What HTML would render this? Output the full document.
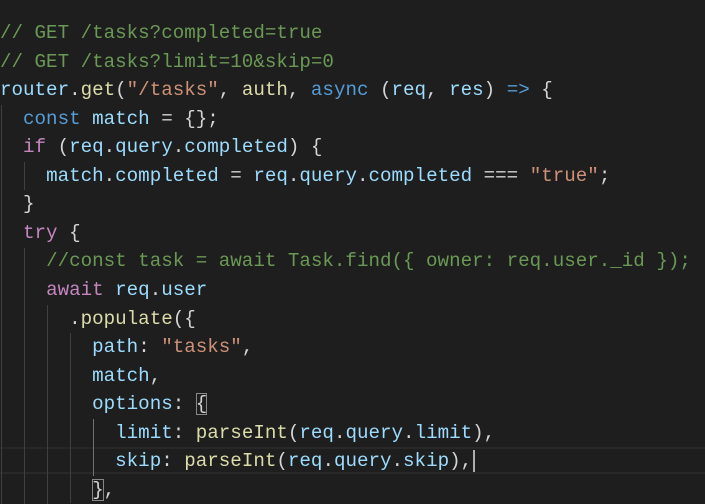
<!DOCTYPE html>
<html><head><meta charset="utf-8"><style>
html,body{margin:0;height:504px;overflow:hidden}
body{background:#1e1e1e;width:705px;position:relative;font-family:"Liberation Mono",monospace;font-size:19.2px;color:#d4d4d4}
.l{position:absolute;left:0;height:28.56px;line-height:28.56px;white-space:pre}
.g{position:absolute;width:1px;background:#404040}
.c{color:#6a9955}.v{color:#9cdcfe}.f{color:#dcdcaa}.s{color:#ce9178}.k{color:#569cd6}.p{color:#c586c0}
.b{outline:1px solid #888;outline-offset:-1px}
</style></head><body>
<div style="position:absolute;left:0;top:447px;width:705px;height:27px;border-top:2px solid #282828;border-bottom:2px solid #282828;box-sizing:border-box"></div>
<div class="g" style="left:1px;top:104.7px;height:399px"></div>
<div class="g" style="left:24px;top:161.8px;height:28.6px"></div>
<div class="g" style="left:24px;top:247.5px;height:256px"></div>
<div class="g" style="left:47px;top:304.6px;height:199px"></div>
<div class="g" style="left:70px;top:333.2px;height:170px"></div>
<div class="g" style="left:93px;top:418.9px;height:57.1px;background:#707070"></div>
<div class="l" style="top:19px"><span class="c">// GET /tasks?completed=true</span></div>
<div class="l" style="top:47.56px"><span class="c">// GET /tasks?limit=10&amp;skip=0</span></div>
<div class="l" style="top:76.12px"><span class="v">router</span>.<span class="f">get</span>(<span class="s">"/tasks"</span>, <span class="f">auth</span>, <span class="k">async</span> (<span class="v">req</span>, <span class="v">res</span>) <span class="k">=&gt;</span> {</div>
<div class="l" style="top:104.68px">  <span class="k">const</span> <span class="v">match</span> = {};</div>
<div class="l" style="top:133.24px">  <span class="p">if</span> (<span class="v">req</span>.<span class="v">query</span>.<span class="v">completed</span>) {</div>
<div class="l" style="top:161.8px">    <span class="v">match</span>.<span class="v">completed</span> = <span class="v">req</span>.<span class="v">query</span>.<span class="v">completed</span> === <span class="s">"true"</span>;</div>
<div class="l" style="top:190.36px">  }</div>
<div class="l" style="top:218.92px">  <span class="p">try</span> {</div>
<div class="l" style="top:247.48px">    <span class="c">//const task = await Task.find({ owner: req.user._id });</span></div>
<div class="l" style="top:276.04px">    <span class="p">await</span> <span class="v">req</span>.<span class="v">user</span></div>
<div class="l" style="top:304.6px">      .<span class="f">populate</span>({</div>
<div class="l" style="top:333.16px">        <span class="v">path</span>: <span class="s">"tasks"</span>,</div>
<div class="l" style="top:361.72px">        <span class="v">match</span>,</div>
<div class="l" style="top:390.28px">        <span class="v">options</span>: <span class="b">{</span></div>
<div class="l" style="top:418.84px">          <span class="v">limit</span>: <span class="f">parseInt</span>(<span class="v">req</span>.<span class="v">query</span>.<span class="v">limit</span>),</div>
<div class="l" style="top:447.4px">          <span class="v">skip</span>: <span class="f">parseInt</span>(<span class="v">req</span>.<span class="v">query</span>.<span class="v">skip</span>),<span style="border-left:2px solid #aeafad;margin-left:1px"></span></div>
<div class="l" style="top:475.96px">        <span class="b">}</span>,</div>
</body></html>
